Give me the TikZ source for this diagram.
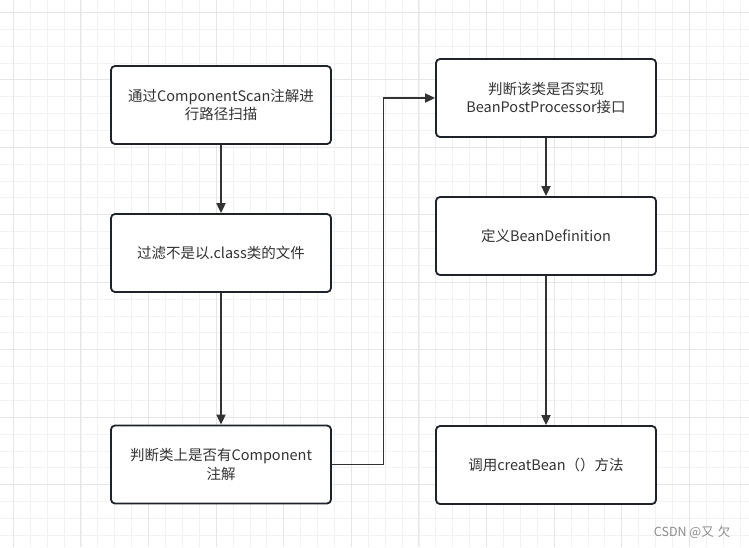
\documentclass[tikz,border=0pt]{standalone}
\usepackage{fontspec}
\setmainfont{Noto Sans CJK SC}
\usepackage{tikz}
\usetikzlibrary{arrows.meta, positioning}

\definecolor{gridminor}{HTML}{F2F2F2}
\definecolor{gridmajor}{HTML}{E6E6E6}
\definecolor{boxline}{HTML}{1F2329}
\definecolor{txtgray}{HTML}{333333}

\tikzset{
    stepbox/.style = {draw=boxline, line width=1.8pt, rounded corners=4pt,
        fill=white, minimum width=220pt, minimum height=78pt,
        align=center, text=txtgray, inner sep=2pt,
        font=\fontsize{14.5}{18.4}\selectfont},
    flow/.style = {draw=txtgray, line width=1.8pt,
        -{Triangle[length=10pt, width=9pt]}}
}

\begin{document}
\begin{tikzpicture}[x=1pt, y=-1pt]
    \useasboundingbox (0,0) rectangle (749,547);
    \fill[white] (0,0) rectangle (749,547);

    % background grid
    \foreach \i in {0,...,43} {
        \pgfmathsetmacro{\gx}{13.3+16.9*\i}
        \draw[gridminor, line width=0.8pt] (\gx,0) -- (\gx,547);
    }
    \foreach \i in {0,...,32} {
        \pgfmathsetmacro{\gy}{12.3+16.87*\i}
        \draw[gridminor, line width=0.8pt] (0,\gy) -- (749,\gy);
    }
    \foreach \i in {0,...,10} {
        \pgfmathsetmacro{\gx}{13.3+67.6*\i}
        \draw[gridmajor, line width=0.9pt] (\gx,0) -- (\gx,547);
    }
    \foreach \i in {0,...,8} {
        \pgfmathsetmacro{\gy}{12.3+67.48*\i}
        \draw[gridmajor, line width=0.9pt] (0,\gy) -- (749,\gy);
    }

    % left column
    \node (scan)   [stepbox] at (221,105)   {通过ComponentScan注解进\\行路径扫描};
    \node (filter) [stepbox] at (221,253)   {过滤不是以.class类的文件};
    \node (check)  [stepbox] at (221,464.5) {判断类上是否有Component\\注解};

    % right column
    \node (post)   [stepbox] at (546,98)    {判断该类是否实现\\BeanPostProcessor接口};
    \node (define) [stepbox] at (546,236)   {定义BeanDefinition};
    \node (create) [stepbox] at (546,465)   {调用creatBean（）方法};

    \coordinate (bend) at (383.5,0);

    \node (mark) [text=black!45, font=\fontsize{12.5}{14}\selectfont, anchor=east] at (734,532) {CSDN @又\,\,欠};

    \draw[flow] (scan) -- (filter);
    \draw[flow] (filter) -- (check);
    \draw[flow] (check.east) -- (check.east -| bend) |- (post.west);
    \draw[flow] (post) -- (define);
    \draw[flow] (define) -- (create);

\end{tikzpicture}
\end{document}
